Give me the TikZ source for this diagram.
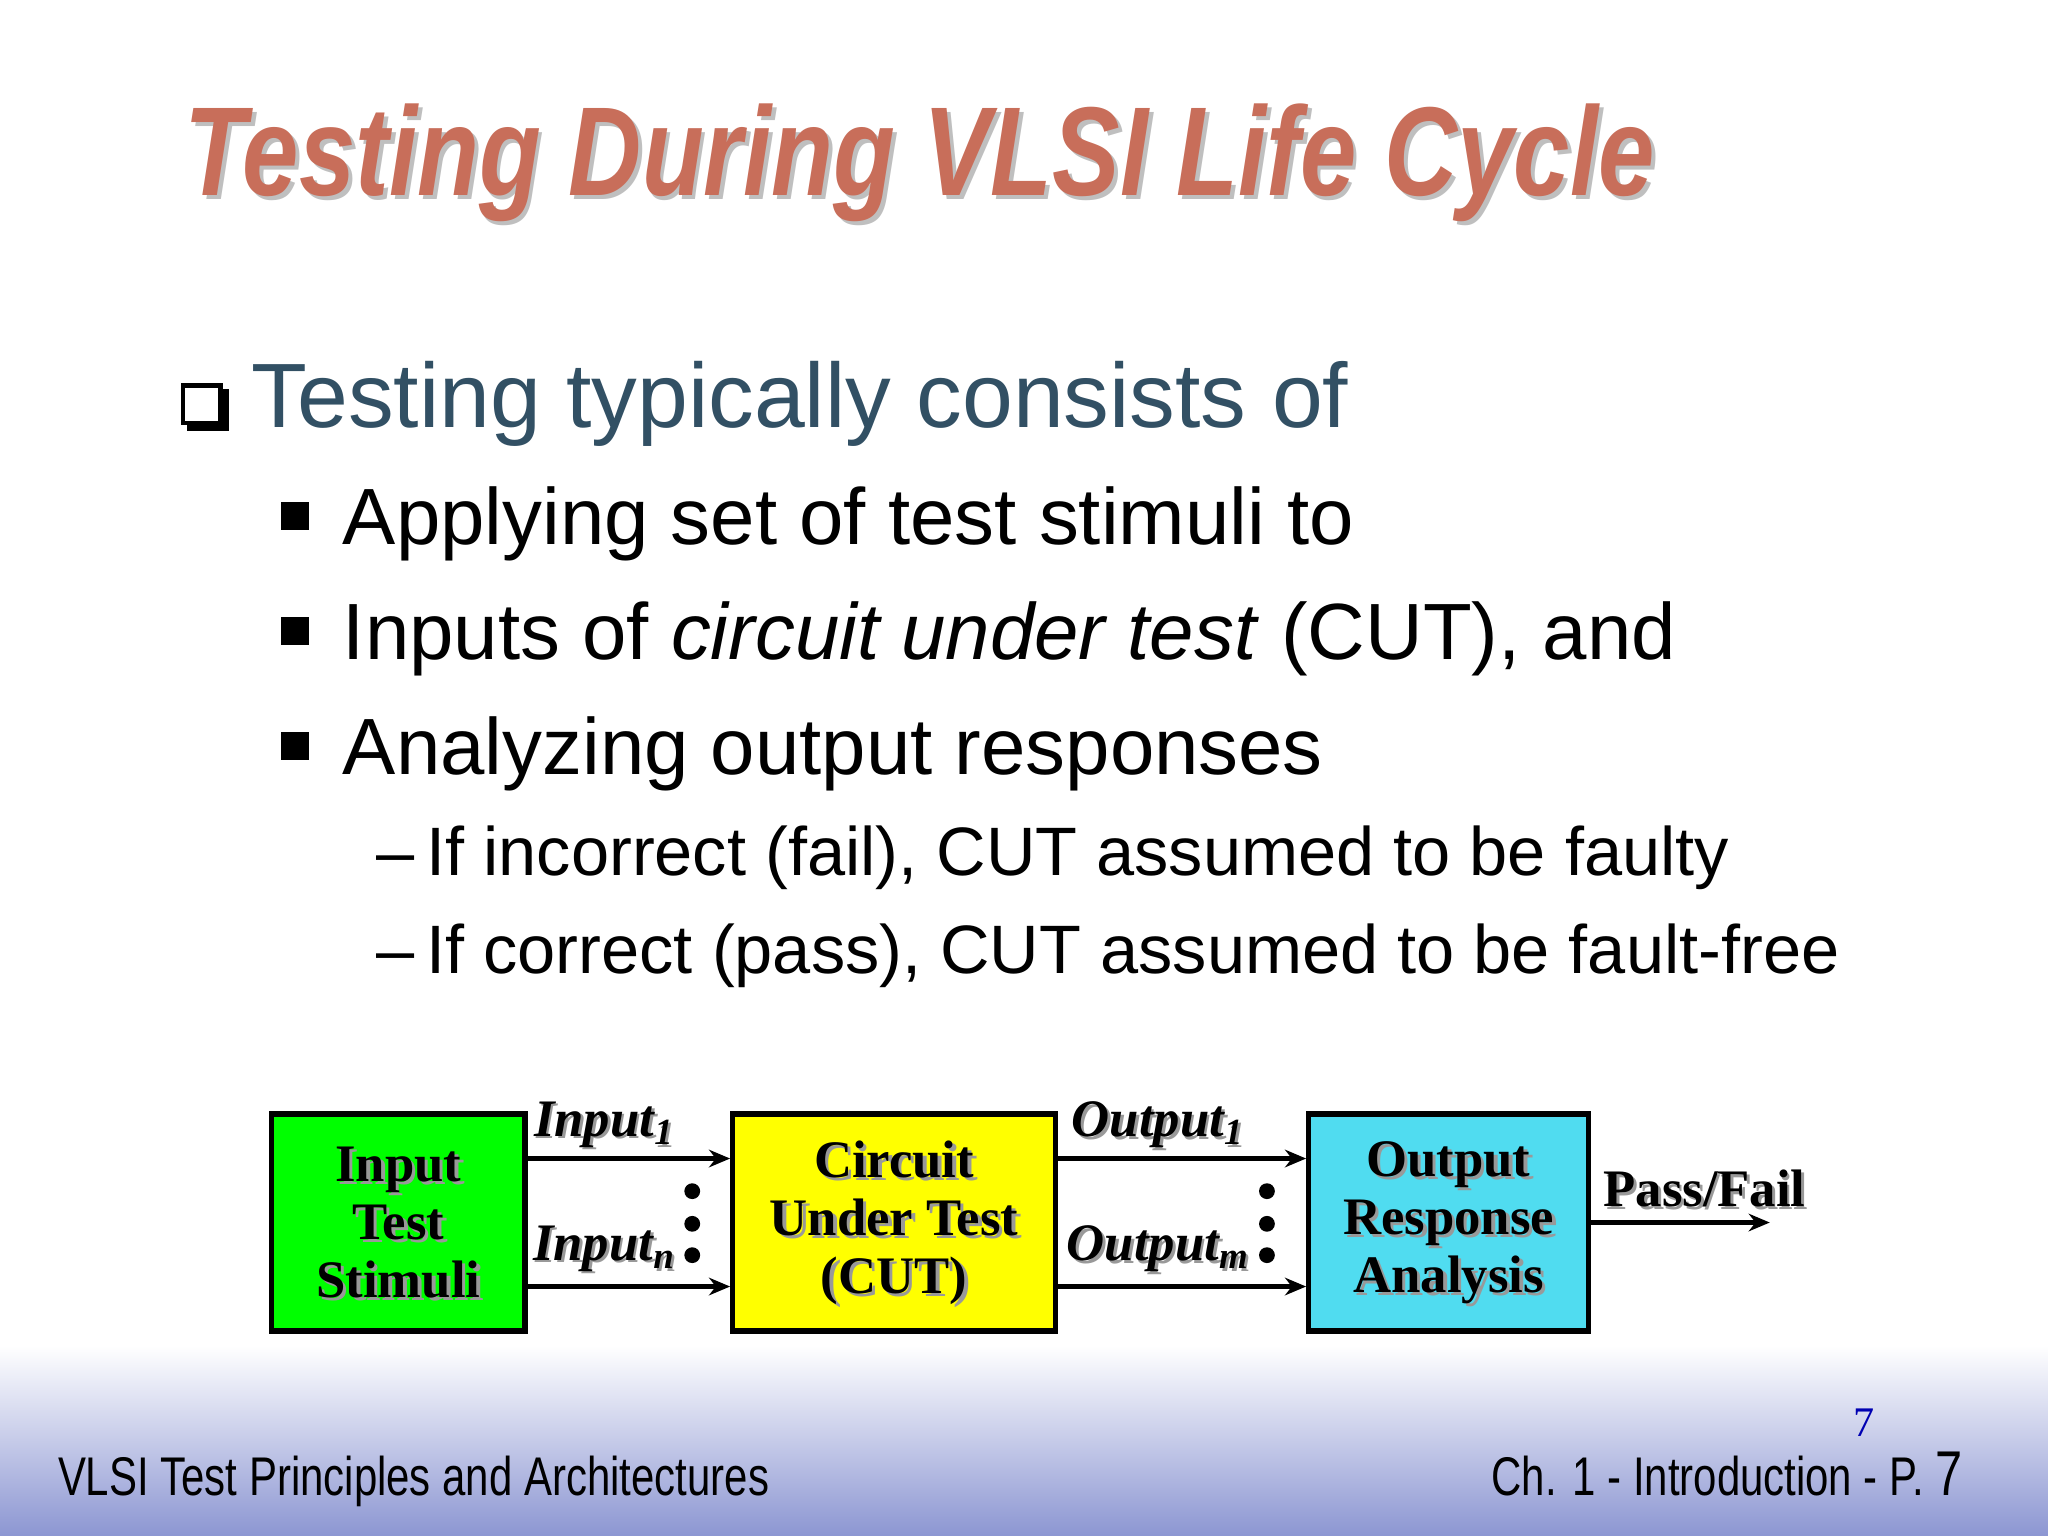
\documentclass[tikz,border=0pt]{standalone}
\usepackage{fontspec}
\setmainfont{Liberation Sans}
\newfontfamily\tms{Liberation Serif}
\usetikzlibrary{arrows.meta}
\definecolor{titlec}{RGB}{200,110,90}
\definecolor{bodyc}{RGB}{50,80,100}
\definecolor{boxgreen}{RGB}{0,255,0}
\definecolor{boxyellow}{RGB}{255,255,0}
\definecolor{boxcyan}{RGB}{80,220,240}
\definecolor{footc}{RGB}{140,150,210}
\newcommand{\mysub}[1]{\raisebox{-0.35ex}{\fontsize{10.5}{12}\selectfont #1}}
\tikzset{
 blk/.style={draw=black,line width=1.5pt,minimum width=#1,minimum height=166*0.13061mm,inner sep=0pt},
 lbl/.style={font=\tms\bfseries\fontsize{15}{16.5}\selectfont,align=center},
 arr/.style={-{Stealth[length=6pt,width=5pt]},line width=1.2pt},
 dotc/.style={fill=black,circle,inner sep=0pt,minimum size=4.5pt},
 txt/.style={anchor=base west,inner sep=0pt},
}
\begin{document}
\begin{tikzpicture}[x=0.13061mm,y=-0.13061mm]
\useasboundingbox (0,0) rectangle (1568,1176);
\shade[top color=white,bottom color=footc] (0,1030) rectangle (1568,1176);
% title
\node[txt,text=black!25,xscale=0.80] at (144,153) {\fontsize{36}{40}\selectfont\bfseries\itshape Testing During VLSI Life Cycle};
\node[txt,text=titlec,xscale=0.80] (title) at (141,150) {\fontsize{36}{40}\selectfont\bfseries\itshape Testing During VLSI Life Cycle};
% bullets
\fill[black] (143,298) rectangle (175,330);
\fill[white] (140,295) rectangle (169,324);
\draw[black,line width=1.3pt] (140,295) rectangle (169,324);
\node[txt,text=bodyc] (b0) at (192,327) {\fontsize{26}{30}\selectfont Testing typically consists of};
\foreach \y/\t [count=\i] in {417/{Applying set of test stimuli to},505/{Inputs of \textit{circuit under test} (CUT), and},593/{Analyzing output responses}}{
 \node[fill=black,minimum size=8pt,inner sep=0pt] (sb\i) at (226,\y-22) {};
 \node[txt] (s\i) at (262,\y) {\fontsize{22.7}{26}\selectfont \t};
}
\node[txt] (d1) at (288,670) {\fontsize{19.5}{24}\selectfont –\,If incorrect (fail), CUT assumed to be faulty};
\node[txt] (d2) at (288,745) {\fontsize{19.5}{24}\selectfont –\,If correct (pass), CUT assumed to be fault-free};
% diagram
\node[blk=194*0.13061mm,fill=boxgreen] (its) at (305,936) {};
\node[blk=247*0.13061mm,fill=boxyellow] (cut) at (684.5,936) {};
\node[blk=214*0.13061mm,fill=boxcyan] (ora) at (1109,936) {};
\foreach \n/\t in {its/{Input\\Test\\Stimuli},cut/{Circuit\\Under Test\\(CUT)},ora/{Output\\Response\\Analysis}}{
 \node[lbl,text=black!40] at ([xshift=1pt,yshift=-1pt]\n.center) {\t};
 \node[lbl] at (\n.center) {\t};
}
\draw[arr] (its.east|-0,887) -- (cut.west|-0,887);
\draw[arr] (its.east|-0,985) -- (cut.west|-0,985);
\draw[arr] (cut.east|-0,887) -- (ora.west|-0,887);
\draw[arr] (cut.east|-0,985) -- (ora.west|-0,985);
\coordinate (pf) at (1355,936);
\draw[arr] (ora.east) -- (pf);
\foreach \x in {530,970}{\foreach \y in {912,937,961}{\node[dotc] at (\x,\y) {};}}
\tikzset{ilbl/.style={font=\tms\bfseries\itshape\fontsize{15}{17}\selectfont,inner sep=0pt}}
\foreach \x/\y/\t in {462/861/{Input\mysub{1}},462/956/{Input\mysub{n}},886/861/{Output\mysub{1}},886/956/{Output\mysub{m}}}{
 \node[ilbl,text=black!40] at (\x+2,\y+2) {\t};
 \node[ilbl] at (\x,\y) {\t};
}
\node[lbl,text=black!40] at (1307,912) {Pass/Fail};
\node[lbl] (pft) at (1305,910) {Pass/Fail};
% footer
\node[txt,xscale=0.77] (f1) at (44,1145) {\fontsize{15.5}{17}\selectfont VLSI Test Principles and Architectures};
\node[anchor=base east,inner sep=0pt,xscale=0.77] (f2) at (1503,1145) {\fontsize{15.5}{17}\selectfont Ch. 1 - Introduction - P. \fontsize{18}{20}\selectfont 7};
\node[anchor=base,inner sep=0pt,text=blue!70!black] (pg) at (1427,1100) {\tms\fontsize{12}{14}\selectfont 7};
\end{tikzpicture}
\end{document}
